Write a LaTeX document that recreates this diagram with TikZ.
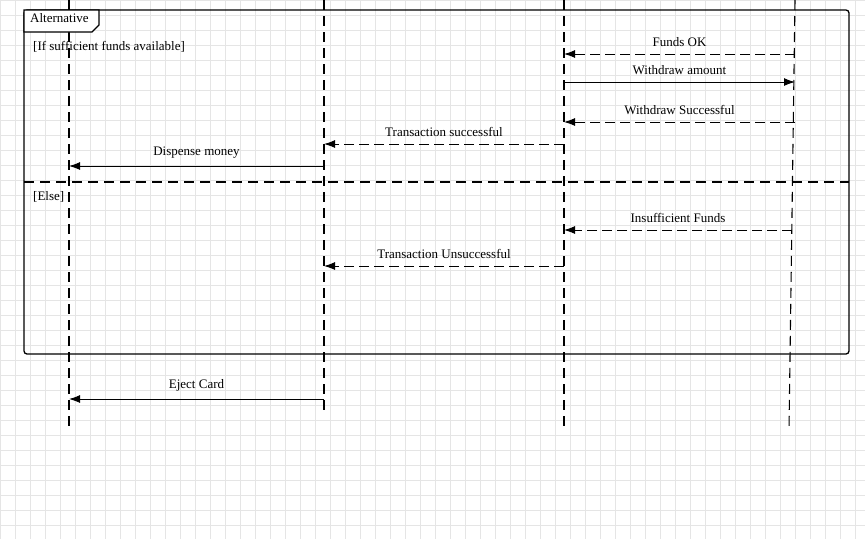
\documentclass[tikz,border=0pt]{standalone}
\usepackage{fontspec}
\setmainfont{Liberation Serif}
\usetikzlibrary{arrows.meta}
\begin{document}
\begin{tikzpicture}[x=1pt,y=-1pt,
  life/.style={line width=1.1pt,dash pattern=on 10pt off 6pt},
  msg/.style={line width=1pt,-{Latex[length=11pt,width=8pt]}},
  ret/.style={msg,dash pattern=on 10pt off 5pt},
  lbl/.style={font=\fontsize{13}{15}\selectfont,inner sep=0pt}]
\useasboundingbox (0,0) rectangle (865,539);
\foreach \i in {0,...,58} {\draw[gray!20,line width=0.5pt] (\i*15,0) -- (\i*15,539);}
\foreach \j in {0,...,36} {\draw[gray!20,line width=0.5pt] (0,\j*15) -- (865,\j*15);}
% lifelines
\coordinate (a0) at (69,0); \coordinate (a1) at (69,430);
\coordinate (b0) at (324,0); \coordinate (b1) at (324,413);
\coordinate (c0) at (564,0); \coordinate (c1) at (564,430);
\coordinate (d0) at (795,0); \coordinate (d1) at (789,430);
\draw[life] (a0) -- (a1);
\draw[life] (b0) -- (b1);
\draw[life] (c0) -- (c1);
\draw[life] (d0) -- (d1);
% frame
\draw[line width=1.3pt,rounded corners=3pt] (24,10) rectangle (849,354);
\draw[line width=1.3pt,fill=white] (24,10) -- (24,32) -- (92,32) -- (99,25) -- (99,10) -- cycle;
\node[lbl,anchor=west] (alt) at (30,18) {Alternative};
\node[lbl,anchor=west] (g1) at (33,47) {[If sufficient funds available]};
\draw[line width=1.1pt,dash pattern=on 10pt off 6pt] (24,182) -- (849,182);
\node[lbl,anchor=west] (g2) at (33,197) {[Else]};
% messages
\coordinate (m1s) at (795,54); \coordinate (m1e) at (564,54);
\draw[ret] (m1s) -- (m1e) node[lbl,midway,above=7pt] {Funds OK};
\coordinate (m2s) at (564,82); \coordinate (m2e) at (795,82);
\draw[msg] (m2s) -- (m2e) node[lbl,midway,above=7pt] {Withdraw amount};
\coordinate (m3s) at (795,122); \coordinate (m3e) at (564,122);
\draw[ret] (m3s) -- (m3e) node[lbl,midway,above=7pt] {Withdraw Successful};
\coordinate (m4s) at (564,144); \coordinate (m4e) at (324,144);
\draw[ret] (m4s) -- (m4e) node[lbl,midway,above=7pt] {Transaction successful};
\coordinate (m5s) at (324,166); \coordinate (m5e) at (69,166);
\draw[msg] (m5s) -- (m5e) node[lbl,midway,above=7pt] {Dispense money};
\coordinate (m6s) at (792,230); \coordinate (m6e) at (564,230);
\draw[ret] (m6s) -- (m6e) node[lbl,midway,above=7pt] {Insufficient Funds};
\coordinate (m7s) at (564,266); \coordinate (m7e) at (324,266);
\draw[ret] (m7s) -- (m7e) node[lbl,midway,above=7pt] {Transaction Unsuccessful};
\coordinate (m8s) at (324,399); \coordinate (m8e) at (69,399);
\draw[msg] (m8s) -- (m8e) node[lbl,midway,above=7pt] {Eject Card};
\end{tikzpicture}
\end{document}
